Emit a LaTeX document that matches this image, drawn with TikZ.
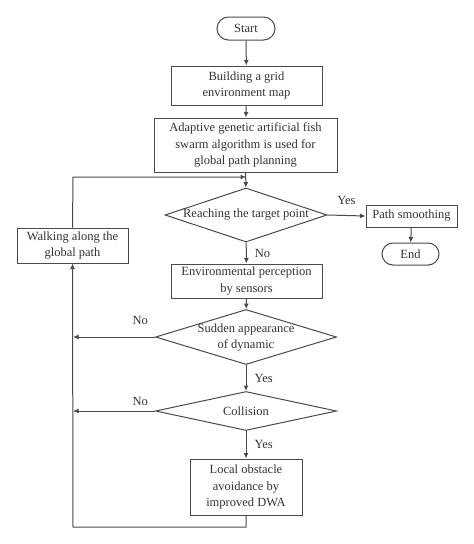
\documentclass[tikz,border=0pt]{standalone}
\usepackage{fontspec}
\setmainfont{Liberation Serif}
\usetikzlibrary{shapes.geometric,shapes.misc,arrows.meta}
\definecolor{ln}{HTML}{4A4A4A}
\definecolor{tx}{HTML}{333333}
\begin{document}
\begin{tikzpicture}[x=1pt,y=-1pt,
  every node/.style={text=tx,font=\fontsize{12.5}{16.5}\selectfont},
  box/.style={draw=ln,line width=1pt,rectangle,inner sep=0pt,align=center},
  term/.style={draw=ln,line width=1pt,rounded rectangle,inner sep=0pt},
  dia/.style={draw=ln,line width=1pt,diamond,inner sep=0pt},
  lbl/.style={inner sep=0pt},
  arr/.style={draw=ln,line width=1pt,-{Latex[length=5.5pt,width=5pt]}},
  ln/.style={draw=ln,line width=1pt}]
\useasboundingbox (0,0) rectangle (474,544);
\node[term,minimum width=58pt,minimum height=23pt] (start) at (246,28.5) {Start};
\node[box,minimum width=151pt,minimum height=39pt] (build) at (246.5,85.5) {Building a grid\\environment map};
\node[box,minimum width=183pt,minimum height=54pt] (adapt) at (245.5,145) {Adaptive genetic artificial fish\\swarm algorithm is used for\\global path planning};
\node[dia,minimum width=162pt,minimum height=54pt] (d1) at (246,215) {};
\node[lbl] at (d1) {Reaching the target point};
\node[box,minimum width=91pt,minimum height=22pt] (smooth) at (411.5,216) {Path smoothing};
\node[term,minimum width=57pt,minimum height=22pt] (end) at (410.5,254) {End};
\node[box,minimum width=111pt,minimum height=35pt] (walk) at (72.5,245.5) {Walking along the\\global path};
\node[box,minimum width=151pt,minimum height=34pt] (env) at (246.5,281) {Environmental perception\\by sensors};
\node[dia,minimum width=181pt,minimum height=55pt] (d2) at (246,337) {};
\node[lbl] at (d2) {\begin{tabular}{@{}c@{}}Sudden appearance\\of dynamic\end{tabular}};
\node[dia,minimum width=181pt,minimum height=39pt] (d3) at (246,411) {};
\node[lbl] at (d3) {Collision};
\node[box,minimum width=112pt,minimum height=56pt] (local) at (246,487) {Local obstacle\\avoidance by\\improved DWA};
\coordinate (j) at (246,177);
\coordinate (bl) at (73,527);
\coordinate (br) at (246,527);
\coordinate (tl) at (73,177);
\coordinate (l2) at (73,337);
\coordinate (l3) at (73,411);
% connectors
\draw[arr] (start) -- (build);
\draw[arr] (build) -- (adapt);
\draw[arr] (adapt) -- (d1);
\draw[arr] (walk.north) -- (tl) -- (j);
\draw[arr] (d1.east) -- (smooth.west) node[lbl,midway,above=10pt] {Yes};
\draw[arr] (smooth) -- (end);
\draw[arr] (d1) -- (env) node[lbl,midway,right=8pt] {No};
\draw[arr] (env) -- (d2);
\draw[arr] (d2) -- (d3) node[lbl,midway,right=8pt] {Yes};
\draw[arr] (d3) -- (local) node[lbl,midway,right=8pt] {Yes};
\draw[arr] (d2.west) -- (l2) node[lbl,pos=0.18,above=12pt] {No};
\draw[arr] (d3.west) -- (l3) node[lbl,pos=0.18,above=5pt] {No};
\draw[arr] (local.south) -- (br) -- (bl) -- (walk.south);
\end{tikzpicture}
\end{document}
